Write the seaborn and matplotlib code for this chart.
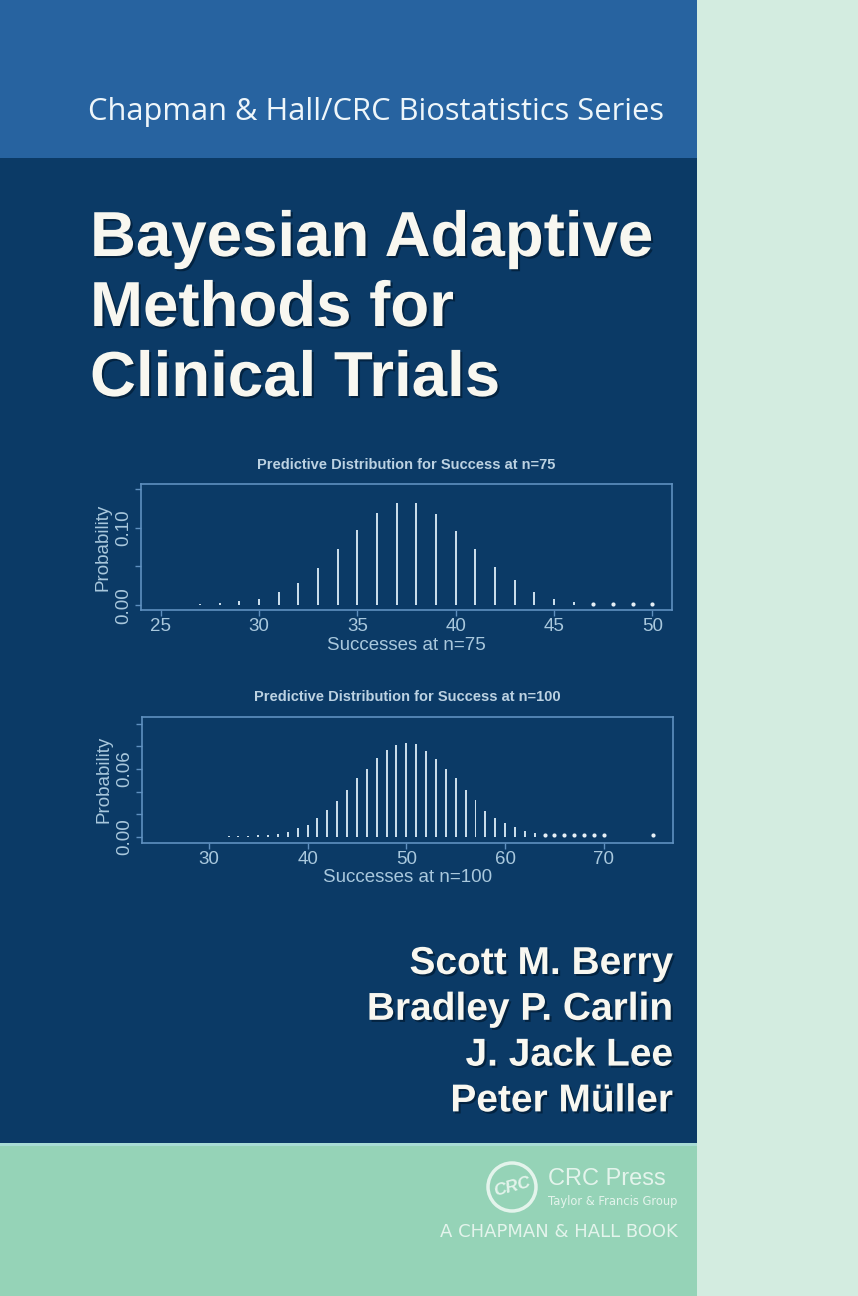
import numpy as np
import pandas as pd
import seaborn as sns
import matplotlib.pyplot as plt
from matplotlib.patches import Rectangle, Circle
import matplotlib.patheffects as pe

# predictive distribution at n=75
succ75 = [25, 26, 27, 28, 29, 30, 31, 32, 33, 34, 35, 36, 37,
          38, 39, 40, 41, 42, 43, 44, 45, 46, 47, 48, 49, 50]
prob75 = [0.0001, 0.0003, 0.0017, 0.003, 0.0056, 0.0077, 0.017, 0.029, 0.048, 0.072, 0.097, 0.119, 0.131,
          0.131, 0.118, 0.096, 0.072, 0.049, 0.032, 0.017, 0.0077, 0.0045, 0.0018, 0.0018, 0.0018, 0.0018]

# predictive distribution at n=100
succ100 = [25, 26, 27, 28, 29, 30, 31, 32, 33, 34, 35, 36, 37, 38, 39, 40, 41, 42, 43, 44, 45, 46, 47,
           48, 49, 50, 51, 52, 53, 54, 55, 56, 57, 58, 59, 60, 61, 62, 63, 64, 65, 66, 67, 68, 69, 70, 75]
prob100 = [0.0001, 0.0001, 0.0001, 0.0002, 0.0002, 0.0002, 0.0003, 0.0005, 0.0007, 0.001, 0.0015, 0.002,
           0.003, 0.0048, 0.008, 0.011, 0.017, 0.024, 0.032, 0.041, 0.052, 0.060, 0.070,
           0.077, 0.081, 0.083, 0.082, 0.076, 0.069, 0.060, 0.052, 0.041, 0.033, 0.023, 0.017, 0.0125, 0.0086,
           0.005, 0.0036, 0.0022, 0.0015, 0.0015, 0.0015, 0.0015, 0.0015, 0.0015, 0.0015]

ticks75 = [25, 30, 35, 40, 45, 50]
ticks100 = [30, 40, 50, 60, 70]
yticks75 = [0, 0.05, 0.10, 0.15]
ylab75 = ['0.00', '', '0.10', '']
yticks100 = [0, 0.02, 0.04, 0.06, 0.08, 0.10]
ylab100 = ['0.00', '', '', '0.06', '', '']

title_lines = ['Bayesian Adaptive', 'Methods for', 'Clinical Trials']
authors = ['Scott M. Berry', 'Bradley P. Carlin', 'J. Jack Lee', 'Peter Müller']
series = 'Chapman & Hall/CRC Biostatistics Series'

navy = '#0b3a66'
band = '#2763a0'
mint = '#d3ece0'
green = '#95d3b7'
bar_col = '#c9dcea'
axis_col = '#5f90bf'
lab_col = '#a9c8dd'

sns.set_style('ticks')
plt.rcParams['font.family'] = ['Liberation Sans', 'DejaVu Sans']

W, H = 858, 1296
fig = plt.figure(figsize=(W / 100, H / 100), dpi=100)
fig.patch.set_facecolor(navy)


def fx(x):
    return x / W


def fy(y):
    return 1 - y / H


def rect(x0, y0, x1, y1, c):
    fig.add_artist(Rectangle((fx(x0), fy(y1)), fx(x1) - fx(x0), fy(y0) - fy(y1),
                             transform=fig.transFigure, color=c, zorder=-5, lw=0))


rect(0, 0, 697, 158, band)
rect(0, 1143, 697, 1146, '#a8dcd4')
rect(0, 1146, 697, H, green)
rect(697, 0, W, H, mint)

shadow = [pe.SimplePatchShadow(offset=(1.5, -1.5), shadow_rgbFace='#03213d', alpha=0.9), pe.Normal()]
renderer = fig.canvas.get_renderer()


def fit_width(t, target):
    bb = t.get_window_extent(renderer)
    t.set_fontsize(t.get_fontsize() * target / bb.width)


# series line
t = fig.text(fx(88), fy(120), series, fontsize=20, color='#eef6fa', family='Open Sans',
             va='baseline', ha='left')
fit_width(t, 574)

# book title
for i, line in enumerate(title_lines):
    fig.text(fx(90), fy(256 + 70 * i), line, fontsize=45.8, fontweight='bold', color='#f8f7f0',
             va='baseline', ha='left', path_effects=shadow)

# authors
for i, name in enumerate(authors):
    fig.text(fx(673), fy(974 + 45.8 * i), name, fontsize=28, fontweight='bold', color='#f8f7f0',
             va='baseline', ha='right', path_effects=shadow)


def chart(box, x, p, title, xlabel, xlim, ylim, xticks, yticks, ylabels, bar_w):
    left, top, right, bottom = box
    ax = fig.add_axes([fx(left), fy(bottom), fx(right) - fx(left), fy(top) - fy(bottom)])
    ax.set_facecolor('none')
    df = pd.DataFrame({'succ': x, 'prob': p})
    sns.barplot(data=df, x='succ', y='prob', native_scale=True, width=bar_w, color=bar_col,
                saturation=1, errorbar=None, linewidth=0, ax=ax)
    mode = df['succ'][df['prob'].idxmax()]
    tail = df[(df['succ'] > mode) & (df['prob'] < 0.0025)]
    sns.scatterplot(data=tail, x='succ', y='prob', color='#e6eff6', s=9, linewidth=0, ax=ax, zorder=3)
    ax.set_xlim(xlim)
    ax.set_ylim(ylim)
    ax.set_xticks(xticks)
    ax.set_xticklabels([str(v) for v in xticks])
    ax.set_yticks(yticks)
    ax.set_yticklabels(ylabels, rotation=90, va='center')
    for s in ax.spines.values():
        s.set_color(axis_col)
        s.set_linewidth(1.2)
    ax.tick_params(colors=axis_col, labelcolor=lab_col, labelsize=13.5, length=4, width=1, pad=2)
    ax.set_title(title, color='#bcd2e2', fontsize=10.5, fontweight='bold', pad=11)
    ax.set_xlabel(xlabel, color=lab_col, fontsize=13.5, labelpad=1)
    ax.set_ylabel('Probability', color=lab_col, fontsize=13.5, labelpad=3)
    return ax


chart((141, 484, 672, 610), succ75, prob75, 'Predictive Distribution for Success at n=75',
      'Successes at n=75', (24, 51), (-0.006, 0.156), ticks75, yticks75, ylab75, 0.11)
chart((141.7, 716.7, 673, 842.7), succ100, prob100, 'Predictive Distribution for Success at n=100',
      'Successes at n=100', (23.2, 77), (-0.005, 0.106), ticks100, yticks100, ylab100, 0.2)

# publisher logo, circle placed in inches so it stays round
logo_col = '#e4f4ec'
fig.add_artist(Circle((5.12, (H - 1187) / 100), 0.24, transform=fig.dpi_scale_trans, fill=False,
                      edgecolor=logo_col, lw=2.5, zorder=5))
fig.text(fx(512), fy(1187), 'CRC', fontsize=12.5, fontweight='bold', style='italic', color=logo_col,
         ha='center', va='center', rotation=15)
t = fig.text(fx(548), fy(1185), 'CRC Press', fontsize=17, color=logo_col, ha='left', va='baseline')
fit_width(t, 118)
t = fig.text(fx(548), fy(1205), 'Taylor & Francis Group', fontsize=8, color=logo_col, ha='left',
             va='baseline', family='Liberation Sans Narrow')
fit_width(t, 130)
t = fig.text(fx(440), fy(1237), 'A CHAPMAN & HALL BOOK', fontsize=10, color=logo_col, ha='left',
             va='baseline', family='DejaVu Sans')
fit_width(t, 238)

fig.savefig('out.png', dpi=100, facecolor=fig.get_facecolor())
